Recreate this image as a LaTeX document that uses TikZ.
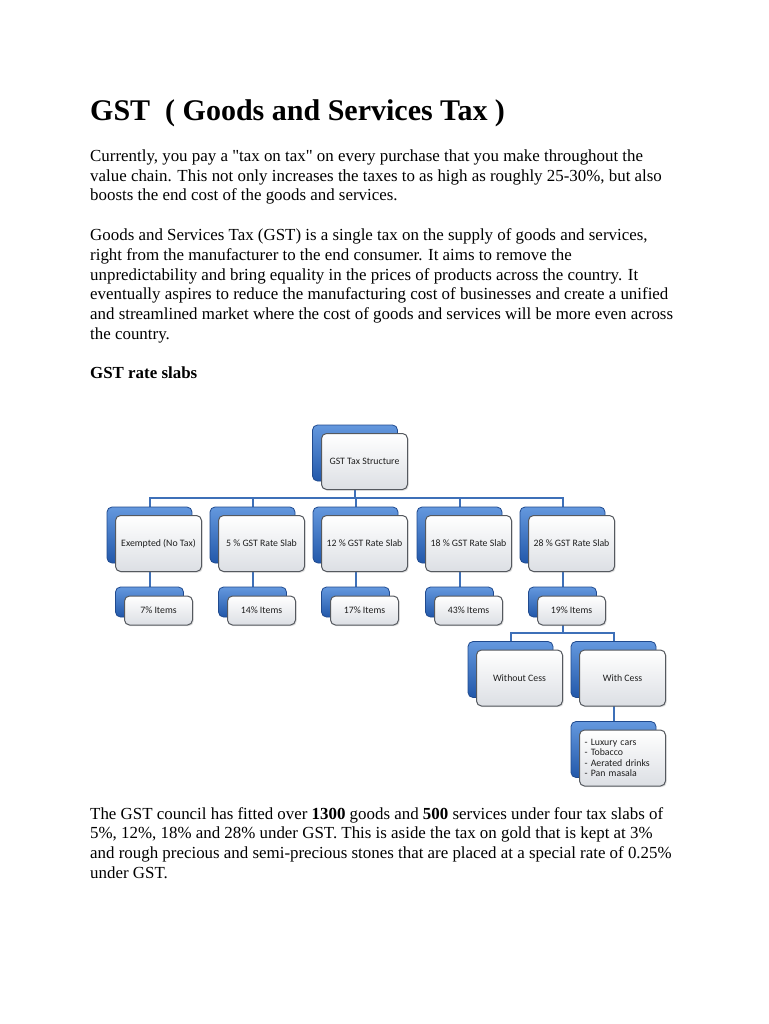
\documentclass[tikz,border=0pt]{standalone}
\usepackage{fontspec}
\setmainfont{Liberation Serif}[Ligatures=TeXOff]
\newfontfamily\boxfont{Carlito}
\usetikzlibrary{shadows}
\pgfdeclarelayer{bg}
\pgfsetlayers{bg,main}
\definecolor{blueL}{RGB}{100,152,222}
\definecolor{blueD}{RGB}{34,88,170}
\definecolor{blueB}{RGB}{32,74,142}
\definecolor{frgray}{RGB}{220,223,228}
\definecolor{frborder}{RGB}{85,89,95}
\definecolor{connc}{RGB}{62,112,184}
\definecolor{boxtext}{RGB}{30,30,30}
\begin{document}
\begin{tikzpicture}[x=1pt,y=-1pt,
  txt/.style={anchor=base west,inner sep=0pt,font=\fontsize{16.9}{20}\selectfont},
  bk/.style={rounded corners=5pt,draw=blueB,line width=0.8pt,top color=blueL,bottom color=blueD,
     minimum width=85pt,minimum height=56pt,inner sep=0pt},
  fr/.style={rounded corners=5pt,draw=frborder,line width=1pt,top color=white,bottom color=frgray,
     minimum width=86pt,minimum height=56pt,inner sep=0pt,text=boxtext,
     font=\boxfont\fontsize{9.8}{10.3}\selectfont,
     drop shadow={shadow xshift=1.2pt,shadow yshift=-1.2pt,opacity=0.25}},
  bks/.style={bk,minimum width=68pt,minimum height=30pt},
  frs/.style={fr,minimum width=68pt,minimum height=29pt},
  conn/.style={draw=connc,line width=2pt}]
\useasboundingbox (0,0) rectangle (768,1024);
\begin{pgfonlayer}{bg}
\fill[white] (0,0) rectangle (768,1024);
\end{pgfonlayer}

% ---- text ----
\node[txt,font=\fontsize{30}{36}\selectfont\bfseries] (title) at (90,121) {GST\ \ ( Goods and Services Tax )};
\node[txt] (p11) at (90,161.5) {Currently, you pay a "tax on tax" on every purchase that you make throughout the};
\node[txt] (p12) at (90,181.2) {value chain. This not only increases the taxes to as high as roughly 25-30\%, but also};
\node[txt] (p13) at (90,200.9) {boosts the end cost of the goods and services.};
\node[txt] (p21) at (90,240.7) {Goods and Services Tax (GST) is a single tax on the supply of goods and services,};
\node[txt] (p22) at (90,260.4) {right from the manufacturer to the end consumer. It aims to remove the};
\node[txt] (p23) at (90,280.1) {unpredictability and bring equality in the prices of products across the country. It};
\node[txt] (p24) at (90,299.8) {eventually aspires to reduce the manufacturing cost of businesses and create a unified};
\node[txt] (p25) at (90,319.5) {and streamlined market where the cost of goods and services will be more even across};
\node[txt] (p26) at (90,339.2) {the country.};
\node[txt,font=\fontsize{16.9}{20}\selectfont\bfseries] (slabs) at (90,378) {GST rate slabs};
\node[txt] (p31) at (90,819) {The GST council has fitted over \textbf{1300} goods and \textbf{500} services under four tax slabs of};
\node[txt] (p32) at (90,838.7) {5\%, 12\%, 18\% and 28\% under GST. This is aside the tax on gold that is kept at 3\%};
\node[txt] (p33) at (90,858.4) {and rough precious and semi-precious stones that are placed at a special rate of 0.25\%};
\node[txt] (p34) at (90,878.1) {under GST.};

% ---- diagram ----
\node[bk] (topb) at (355,453) {};
\node[fr] (topf) at (364.5,461.5) {GST Tax Structure};

\node[bk] (s1b) at (149.5,535) {};
\node[fr] (s1f) at (158.5,543.5) {Exempted (No Tax)};
\node[bk] (s2b) at (252.5,535) {};
\node[fr] (s2f) at (261.5,543.5) {5 \% GST Rate Slab};
\node[bk] (s3b) at (355.5,535) {};
\node[fr] (s3f) at (364.5,543.5) {12 \% GST Rate Slab};
\node[bk] (s4b) at (459.5,535) {};
\node[fr] (s4f) at (468.5,543.5) {18 \% GST Rate Slab};
\node[bk] (s5b) at (562.5,535) {};
\node[fr] (s5f) at (571.5,543.5) {28 \% GST Rate Slab};

\node[bks] (i1b) at (149.5,602) {};
\node[frs] (i1f) at (158.5,610.5) {7\% Items};
\node[bks] (i2b) at (252.5,602) {};
\node[frs] (i2f) at (261.5,610.5) {14\% Items};
\node[bks] (i3b) at (355.5,602) {};
\node[frs] (i3f) at (364.5,610.5) {17\% Items};
\node[bks] (i4b) at (459.5,602) {};
\node[frs] (i4f) at (468.5,610.5) {43\% Items};
\node[bks] (i5b) at (562.5,602) {};
\node[frs] (i5f) at (571.5,610.5) {19\% Items};

\node[bk] (c1b) at (510.5,669.5) {};
\node[fr] (c1f) at (519.5,678) {Without Cess};
\node[bk] (c2b) at (613.5,669.5) {};
\node[fr] (c2f) at (622.5,678) {With Cess};

\node[bk] (lb) at (613.5,749.5) {};
\node[fr,align=left,text width=76pt] (lf) at (622.5,758) {- Luxury cars\\- Tobacco\\- Aerated drinks\\- Pan masala};

\coordinate (bus1) at (355,498);
\coordinate (bus2) at (562.5,633);

\begin{pgfonlayer}{bg}
\foreach \s in {s1b,s2b,s3b,s4b,s5b}
  \draw[conn] (topb.south) -- (topb.south |- bus1) -| (\s.north);
\draw[conn] (s1b.south) -- (i1b.north);
\draw[conn] (s2b.south) -- (i2b.north);
\draw[conn] (s3b.south) -- (i3b.north);
\draw[conn] (s4b.south) -- (i4b.north);
\draw[conn] (s5b.south) -- (i5b.north);
\draw[conn] (i5b.south) -- (i5b.south |- bus2) -| (c1b.north);
\draw[conn] (i5b.south) -- (i5b.south |- bus2) -| (c2b.north);
\draw[conn] (c2b.south) -- (lb.north);
\end{pgfonlayer}
\end{tikzpicture}
\end{document}
